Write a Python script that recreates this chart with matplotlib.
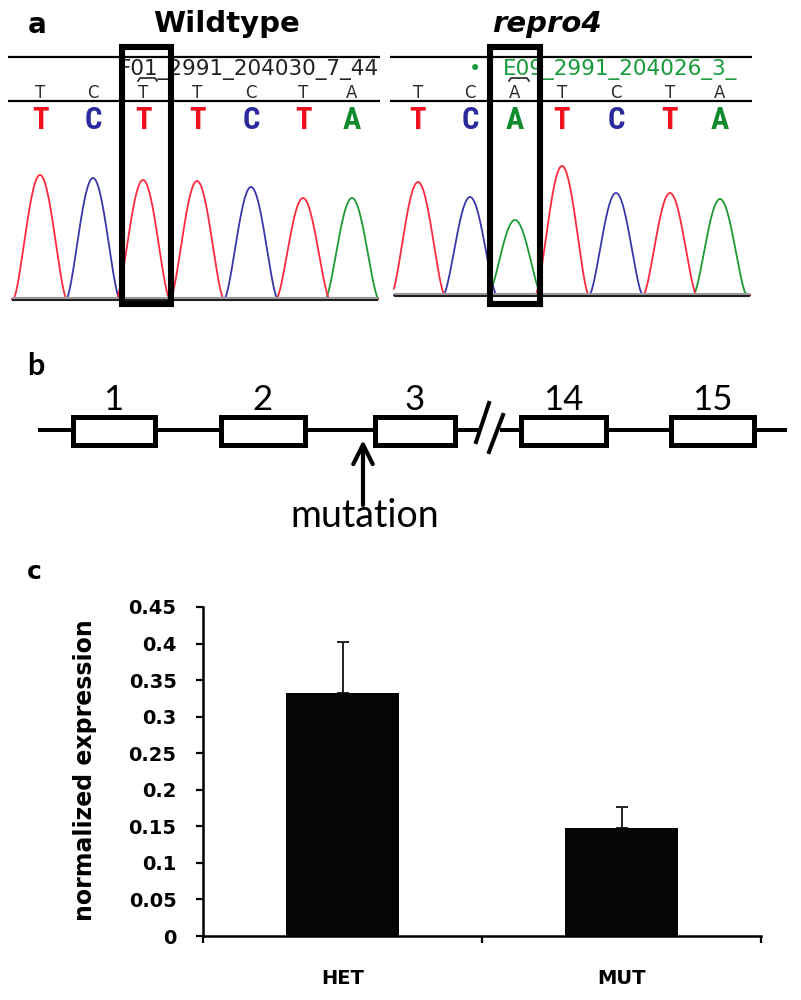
import numpy as np
import matplotlib
matplotlib.use("Agg")
import matplotlib.pyplot as plt
from matplotlib import font_manager
from matplotlib.patches import Rectangle

# ---------------- data ----------------
wt_calls = ['T', 'C', 'T', 'T', 'C', 'T', 'A']
wt_peak_scan = [32, 85, 135, 189, 243, 295, 344]
wt_peak_signal = [124, 121, 119, 118, 112, 101, 101]
mut_calls = ['T', 'C', 'A', 'T', 'C', 'T', 'A']
mut_peak_scan = [28, 80, 125, 172, 226, 280, 330]
mut_peak_signal = [113, 98, 75, 129, 102, 102, 96]
wt_read = 'F01_2991_204030_7_44'
mut_read = 'E09_2991_204026_3_'
exon_labels = ['1', '2', '3', '14', '15']
groups = ['HET', 'MUT']
expression = [0.332, 0.148]
expression_err = [0.070, 0.028]
ytick_values = [0, 0.05, 0.1, 0.15, 0.2, 0.25, 0.3, 0.35, 0.4, 0.45]
ytick_labels = ['0', '0.05', '0.1', '0.15', '0.2', '0.25', '0.3', '0.35', '0.4', '0.45']

# ---------------- fonts ----------------
installed = {f.name for f in font_manager.fontManager.ttflist}
def fam(*names):
    lst = [n for n in names if n in installed]
    return lst + ['DejaVu Sans']
NARROW = fam('Liberation Sans Narrow', 'Roboto Condensed', 'Open Sans Condensed')
HUMAN = fam('Lato')

W, H = 801, 1000
fig = plt.figure(figsize=(W / 100, H / 100), dpi=100)
ax = fig.add_axes([0, 0, 1, 1])
ax.set_xlim(0, W)
ax.set_ylim(H, 0)
ax.axis('off')

call_color = {'T': '#f0101e', 'C': '#2a2a9c', 'A': '#0f8a2c'}
trace_color = {'T': '#ff2a3c', 'C': '#3a36a8', 'A': '#1c9a36'}
HALF_WIDTH = 26.5


def peak_shape(d):
    inside = np.abs(d) < HALF_WIDTH
    return np.where(inside, np.cos(np.pi * np.clip(d, -HALF_WIDTH, HALF_WIDTH) / (2 * HALF_WIDTH)) ** 1.5, 0.0)


def chromatogram(L, R, baseline, calls, scans, signals, box, read, read_start,
                 read_color, dot_scan=None, bracket=None):
    top_px, bot_px = 36, 314
    a = fig.add_axes([L / W, 1 - bot_px / H, (R - L) / W, (bot_px - top_px) / H])
    a.set_xlim(0, R - L)
    a.set_ylim(baseline - bot_px, baseline - top_px)
    a.axis('off')
    span = R - L
    s = np.linspace(4, span - 2, 1500)
    for base in ['A', 'C', 'T']:
        y = np.zeros_like(s)
        for c, sc, sg in zip(calls, scans, signals):
            if c == base:
                y += sg * peak_shape(s - sc)
        a.plot(s, y, color=trace_color[base], lw=1.3, zorder=2)
    # baseline
    a.plot([4, span - 2], [0.5, 0.5], color='#9a9a9a', lw=3.0, zorder=3, solid_capstyle='butt')
    a.plot([4, span - 2], [-1.2, -1.2], color='#111111', lw=1.3, zorder=3, solid_capstyle='butt')
    # header lines
    for ypx in (57, 101):
        a.plot([0, span], [baseline - ypx] * 2, color='black', lw=1.6, zorder=3)
    # read name (clipped)
    if dot_scan is not None:
        a.text(dot_scan, baseline - 75, '\u2022', color=read_color, fontsize=15,
               ha='center', va='baseline', clip_on=True)
    a.text(read_start, baseline - 75, read, color=read_color, fontsize=15.5,
           ha='left', va='baseline', clip_on=True)
    if bracket is not None:
        b0, b1 = bracket
        a.plot([b0, b0 + 2, b1 - 2, b1], [baseline - 81, baseline - 78, baseline - 78, baseline - 81],
               color='#222222', lw=1.2, zorder=3)
    # base calls
    for c, sc in zip(calls, scans):
        a.text(sc, baseline - 98, c, color='#2b2b2b', fontsize=12, ha='center',
               va='baseline', clip_on=True)
        a.text(sc, baseline - 129, c, color=call_color[c], fontsize=22, fontweight='bold',
               family=NARROW, ha='center', va='baseline', clip_on=True)
    # highlight box
    x0, x1 = box
    a.add_patch(Rectangle((x0, baseline - 304), x1 - x0, 304 - 47, fill=False,
                          edgecolor='black', lw=4.4, zorder=5, clip_on=False,
                          joinstyle='miter'))
    return a


chromatogram(8, 380, 299, wt_calls, wt_peak_scan, wt_peak_signal, (113.5, 162.5),
             wt_read, 111, '#222222', bracket=(130, 149))
chromatogram(390, 752, 295, mut_calls, mut_peak_scan, mut_peak_signal, (100, 150),
             mut_read, 113, '#169a3a', dot_scan=85, bracket=(119, 139))

# panel titles
ax.text(28, 33, 'a', fontsize=20, fontweight='bold', ha='left', va='baseline')
ax.text(226, 32, 'Wildtype', fontsize=21, fontweight='bold', ha='center', va='baseline')
ax.text(547, 32, 'repro4', fontsize=21, fontweight='bold', fontstyle='italic',
        ha='center', va='baseline')

# ---------------- panel b ----------------
ax.text(27, 375, 'b', fontsize=22, fontweight='bold', family=HUMAN, ha='left', va='baseline')
exon_start = [70, 218, 372, 518, 668]
exon_end = [157, 307, 457, 608, 756]
ax.plot([38, 479], [430, 430], color='black', lw=2.9, zorder=2, solid_capstyle='butt')
ax.plot([500, 787], [430, 430], color='black', lw=2.9, zorder=2, solid_capstyle='butt')
ax.plot([489, 476], [403, 442], color='black', lw=2.9, zorder=2)
ax.plot([503, 489], [415, 452], color='black', lw=2.9, zorder=2)
bw = 5
for lab, s0, s1 in zip(exon_labels, exon_start, exon_end):
    ax.add_patch(Rectangle((s0 + bw / 2, 414 + bw / 2), s1 - s0 - bw, 33 - bw,
                           facecolor='white', edgecolor='black', lw=3.6, zorder=3,
                           joinstyle='miter'))
    ax.text((s0 + s1) / 2, 410, lab, fontsize=25, family=HUMAN, ha='center', va='baseline')
ax.annotate('', xy=(363, 440), xytext=(363, 505),
            arrowprops=dict(arrowstyle='->,head_length=1.4,head_width=0.7', lw=3,
                            color='black', shrinkA=0, shrinkB=0))
ax.text(365, 527, 'mutation', fontsize=27, family=HUMAN, ha='center', va='baseline')

# ---------------- panel c ----------------
ax.text(27, 579, 'c', fontsize=18, fontweight='bold', ha='left', va='baseline')
axc = fig.add_axes([203 / W, 1 - 936 / H, (761 - 203) / W, (936 - 607) / H])
xpos = np.arange(len(groups))
axc.bar(xpos, expression, width=0.405, color='#050505', zorder=2)
axc.errorbar(xpos, expression, yerr=[np.zeros(len(groups)), expression_err], fmt='none',
             ecolor='#111111', elinewidth=1.3, capsize=4.5, capthick=1.3, zorder=1)
axc.set_xlim(-0.5, 1.5)
axc.set_ylim(0, 0.45)
axc.set_yticks(ytick_values)
axc.set_yticklabels(ytick_labels, fontsize=14, fontweight='bold')
axc.set_xticks([-0.5, 0.5, 1.5])
axc.set_xticklabels([])
axc.set_xticks(xpos, minor=True)
axc.set_xticklabels(groups, minor=True, fontsize=14, fontweight='bold')
axc.tick_params(axis='x', which='minor', length=0, pad=24)
axc.tick_params(axis='both', which='major', direction='out', length=5, width=1.6)
axc.tick_params(axis='y', pad=14)
for sp in ('top', 'right'):
    axc.spines[sp].set_visible(False)
for sp in ('left', 'bottom'):
    axc.spines[sp].set_linewidth(1.8)
axc.set_ylabel('normalized expression', fontsize=17, fontweight='bold')
axc.yaxis.set_label_coords(-0.19, 0.505)

fig.savefig('out.png', dpi=100)
